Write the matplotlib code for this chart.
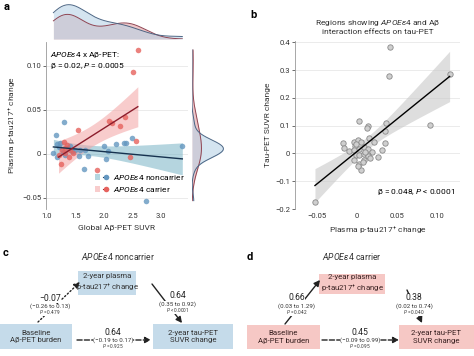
import numpy as np
import matplotlib
matplotlib.use("Agg")
from matplotlib import pyplot as plt
from matplotlib.patches import Patch, Rectangle
from matplotlib.lines import Line2D
from matplotlib.legend_handler import HandlerTuple

plt.rcParams['font.family'] = ['Roboto', 'DejaVu Sans']
plt.rcParams['mathtext.fontset'] = 'custom'
plt.rcParams['mathtext.rm'] = 'Roboto'
plt.rcParams['mathtext.it'] = 'Roboto:italic'

# panel a: global Abeta-PET SUVR vs plasma p-tau217 change
nc_x = [1.29, 1.16, 1.11, 1.18, 1.64, 1.71, 1.99, 2.04, 2.06, 2.21, 2.35, 2.38, 2.49, 3.37,
        2.73, 1.55, 1.17, 1.23, 1.37, 1.43, 1.49, 1.20, 1.32, 1.58, 1.67, 1.27, 1.40]
nc_y = [0.036, 0.022, 0.001, 0.011, -0.017, -0.002, 0.0095, -0.006, 0.003, 0.011, 0.012, 0.012,
        0.018, 0.0095, -0.053, -0.002, -0.003, 0.012, 0.0065, 0.003, 0.0045, 0.008, -0.001,
        0.0045, 0.005, 0.002, 0.009]
c_x = [2.59, 2.50, 2.36, 2.27, 2.09, 2.13, 1.54, 2.55, 2.46, 1.88, 1.25, 1.29, 1.35, 1.26,
       1.40, 1.32, 1.46, 1.20, 1.31, 1.38]
c_y = [0.118, 0.0935, 0.042, 0.032, 0.0375, 0.0356, 0.027, 0.0144, -0.004, -0.018, -0.011,
       0.014, 0.010, 0.0045, 0.0045, 0.001, 0.001, -0.001, 0.007, -0.003]

# panel b: plasma p-tau217 change vs tau-PET SUVR change
b_x = [0.0417, 0.040, 0.116, 0.0917, 0.0025, 0.014, 0.0125, 0.037, 0.035, 0.035, 0.031, 0.027,
       0.0155, 0.0217, -0.017, -0.016, -0.0096, -0.0033, 0.0017, 0.005, -0.0025, 0.003, 0.009,
       0.0133, 0.0188, -0.0013, 0.003, 0.009, 0.0133, -0.0033, 0.003, 0.009, 0.005, 0.001,
       0.014, -0.0525, 0.007, -0.001, 0.010, 0.016, -0.004]
b_y = [0.382, 0.279, 0.285, 0.102, 0.118, 0.098, 0.093, 0.109, 0.080, 0.037, 0.011, -0.013,
       0.055, 0.040, 0.037, 0.020, 0.008, 0.040, 0.049, 0.043, 0.026, 0.017, 0.023, 0.017,
       0.005, -0.007, -0.005, -0.002, -0.004, -0.025, -0.037, -0.025, -0.058, -0.045, -0.010,
       -0.176, -0.030, 0.033, 0.005, -0.018, 0.012]

# panels c/d: mediation coefficients (a path, b path, direct path)
nc_coef = ["-0.07", "0.64", "0.64"]
nc_ci = ["(\u22120.26 to 0.13)", "(0.35 to 0.92)", "(\u22120.19 to 0.17)"]
nc_p = ["= 0.479", "< 0.0001", "= 0.925"]
c_coef = ["0.66", "0.38", "0.45"]
c_ci = ["(0.03 to 1.29)", "(0.02 to 0.74)", "(\u22120.09 to 0.99)"]
c_p = ["= 0.042", "= 0.040", "= 0.095"]

W, H = 474, 356
blue_pt, red_pt = "#6497c0", "#e6625d"
blue_band, red_band = "#78b4c6", "#f3a3a3"
blue_line, red_line = "#16324f", "#8c1d2c"
grid_c = "#e8e8e8"
apoe = r"$\mathit{APOE\varepsilon4}$"


def rect(x0, y0, x1, y1):
    return [x0 / W, 1 - y1 / H, (x1 - x0) / W, (y1 - y0) / H]


def kde(v, grid):
    v = np.asarray(v)
    bw = v.std(ddof=1) * len(v) ** (-0.2)
    z = (grid[:, None] - v[None, :]) / bw
    return np.exp(-0.5 * z ** 2).sum(1) / (len(v) * bw * np.sqrt(2 * np.pi))


def fit_ci(x, y, grid):
    x, y = np.asarray(x), np.asarray(y)
    n = len(x)
    slope, icpt = np.polyfit(x, y, 1)
    resid = y - (slope * x + icpt)
    s = np.sqrt((resid ** 2).sum() / (n - 2))
    se = s * np.sqrt(1 / n + (grid - x.mean()) ** 2 / ((x - x.mean()) ** 2).sum())
    yhat = slope * grid + icpt
    return yhat, yhat - 2.03 * se, yhat + 2.03 * se


fig = plt.figure(figsize=(4.74, 3.56), dpi=100)

# ---- panel a ----
ax = fig.add_axes(rect(46, 42, 188, 209))
for xs, ys, pc, bc, lc in [(nc_x, nc_y, blue_pt, blue_band, blue_line),
                           (c_x, c_y, red_pt, red_band, red_line)]:
    g = np.linspace(min(xs), max(xs), 100)
    yh, lo, hi = fit_ci(xs, ys, g)
    ax.fill_between(g, lo, hi, color=bc, alpha=0.55, lw=0, zorder=1)
    ax.scatter(xs, ys, s=16, color=pc, alpha=0.8, lw=0, zorder=2)
    ax.plot(g, yh, color=lc, lw=1.0, zorder=3)
ax.set_xlim(0.98, 3.47)
ax.set_ylim(-0.0625, 0.127)
ax.set_xticks([1.0, 1.5, 2.0, 2.5, 3.0])
ax.set_xticklabels(["1.0", "1.5", "2.0", "2.5", "3.0"])
ax.set_yticks([-0.05, 0, 0.05, 0.10])
ax.set_yticklabels(["\u22120.05", "0", "0.05", "0.10"])
ax.grid(axis="y", color=grid_c, lw=0.6)
ax.set_axisbelow(True)
for s in ["top", "right", "bottom"]:
    ax.spines[s].set_visible(False)
ax.spines["left"].set_color("#999999")
ax.spines["left"].set_linewidth(0.6)
ax.tick_params(labelsize=5.5, colors="#333333", length=2, width=0.5, pad=1.5)
ax.tick_params(axis="x", length=0, pad=3)
ax.set_xlabel("Global A\u03b2-PET SUVR", fontsize=6, color="#333333", labelpad=4)
ax.set_ylabel("Plasma p-tau217$^{+}$ change", fontsize=6, color="#333333", labelpad=3)
ax.text(0.03, 0.955, apoe + " x A\u03b2-PET:", transform=ax.transAxes, fontsize=6, va="top")
ax.text(0.03, 0.885, "\u03b2 = 0.02, $\\mathit{P}$ = 0.0005",
        transform=ax.transAxes, fontsize=6, va="top")
handles = [(Patch(fc=blue_band, alpha=0.55, lw=0),
            Line2D([], [], color=blue_line, lw=0.8, marker="o", ms=4, mfc=blue_pt, mew=0)),
           (Patch(fc=red_band, alpha=0.55, lw=0),
            Line2D([], [], color=red_line, lw=0.8, marker="o", ms=4, mfc=red_pt, mew=0))]
ax.legend(handles, [apoe + " noncarrier", apoe + " carrier"],
          handler_map={tuple: HandlerTuple(ndivide=None)}, loc="lower right",
          bbox_to_anchor=(1.0, 0.07), frameon=False, fontsize=6, handlelength=1.6,
          handletextpad=0.5, labelspacing=0.4, borderaxespad=0)

n_all = len(nc_x) + len(c_x)
# top marginal
axt = fig.add_axes(rect(46, 4, 188, 39), sharex=ax)
gx = np.linspace(min(nc_x + c_x), max(nc_x + c_x), 200)
top_max = 0
for xs, fc, ec in [(c_x, "#e3a0a4", "#8f4452"), (nc_x, "#b8d3e6", "#4b6584")]:
    d = kde(xs, gx) * len(xs) / n_all
    top_max = max(top_max, d.max())
    axt.fill_between(gx, 0, d, color=fc, alpha=0.6, lw=0)
    axt.plot(gx, d, color=ec, lw=0.7)
axt.set_ylim(0, top_max * 1.02)
axt.axis("off")

# right marginal
axr = fig.add_axes(rect(192, 42, 224, 209), sharey=ax)
gy = np.linspace(min(nc_y + c_y), max(nc_y + c_y), 200)
r_max = 0
for ys, fc, ec in [(c_y, "#e3a0a4", "#8f4452"), (nc_y, "#b8d3e6", "#4b6584")]:
    d = kde(ys, gy) * len(ys) / n_all
    r_max = max(r_max, d.max())
    axr.fill_betweenx(gy, 0, d, color=fc, alpha=0.6, lw=0)
    axr.plot(d, gy, color=ec, lw=0.7)
axr.set_xlim(0, r_max * 1.02)
axr.axis("off")

# ---- panel b ----
bx = fig.add_axes(rect(295, 41, 460, 209))
g = np.linspace(min(b_x), max(b_x), 100)
yh, lo, hi = fit_ci(b_x, b_y, g)
bx.fill_between(g, lo, hi, color="#c8c8c8", alpha=0.6, lw=0, zorder=1)
bx.scatter(b_x, b_y, s=15, facecolor="#cfcfcf", edgecolor="#8a8a8a", lw=0.6, zorder=2)
bx.plot(g, yh, color="black", lw=1.0, zorder=3)
bx.set_xlim(-0.0775, 0.129)
bx.set_ylim(-0.2, 0.405)
bx.set_xticks([-0.05, 0, 0.05, 0.10])
bx.set_xticklabels(["\u22120.05", "0", "0.05", "0.10"])
bx.set_yticks([-0.2, -0.1, 0, 0.1, 0.2, 0.3, 0.4])
bx.set_yticklabels(["\u22120.2", "\u22120.1", "0", "0.1", "0.2", "0.3", "0.4"])
bx.grid(axis="y", color=grid_c, lw=0.6)
bx.set_axisbelow(True)
for s in ["top", "right", "bottom"]:
    bx.spines[s].set_visible(False)
bx.spines["left"].set_color("#999999")
bx.spines["left"].set_linewidth(0.6)
bx.tick_params(labelsize=5.5, colors="#333333", length=2, width=0.5, pad=1.5)
bx.tick_params(axis="x", length=0, pad=3)
bx.set_xlabel("Plasma p-tau217$^{+}$ change", fontsize=6, color="#333333", labelpad=4)
bx.set_ylabel("Tau-PET SUVR change", fontsize=6, color="#333333", labelpad=3)
bx.set_title("Regions showing " + apoe + " and A\u03b2\ninteraction effects on tau-PET",
             fontsize=6, color="#333333", pad=5, linespacing=1.3)
bx.text(0.97, 0.07, "\u03b2 = 0.048, $\\mathit{P}$ < 0.0001", transform=bx.transAxes,
        fontsize=6, ha="right", va="bottom")

# ---- panels c and d (diagram in pixel space) ----
dg = fig.add_axes([0, 0, 1, 1], zorder=-1)
dg.set_xlim(0, W)
dg.set_ylim(H, 0)
dg.axis("off")

boxes = {
    "c": [(78, 271, 136, 295), (0, 324, 72, 349), (153, 324, 233, 349)],
    "d": [(319, 274, 385, 294), (247, 325, 320, 349), (399, 325, 474, 349)],
}
box_txt = ["2-year plasma\np-tau217$^{+}$ change", "Baseline\nA\u03b2-PET burden",
           "2-year tau-PET\nSUVR change"]
arrows = {
    "c": [((38, 322), (80, 282), ":"), ((152, 284), (182, 323), "-"), ((77, 340), (151, 340), "--")],
    "d": [((285, 324), (320, 280), "-"), ((407, 290), (422, 323), "-"), ((322, 340), (399, 340), "--")],
}
lab_pos = {
    "c": [(50, 298.5), (178, 296), (113, 332.5)],
    "d": [(297, 298), (414, 298), (360, 332.5)],
}
white = dict(fc="white", ec="none", pad=0)
for key, col, tc, titl, tx, coefs, cis, ps in [
        ("c", "#c5dbea", "#333333", " noncarrier", 118, nc_coef, nc_ci, nc_p),
        ("d", "#f6c8c5", "#3a2222", " carrier", 352, c_coef, c_ci, c_p)]:
    for (x0, y0, x1, y1), t in zip(boxes[key], box_txt):
        dg.add_patch(Rectangle((x0, y0), x1 - x0, y1 - y0, fc=col, ec="none"))
        dg.text((x0 + x1) / 2, (y0 + y1) / 2, t, ha="center", va="center", fontsize=5.6,
                color=tc, linespacing=1.3)
    for (p0, p1, ls) in arrows[key]:
        dg.annotate("", xy=p1, xytext=p0,
                    arrowprops=dict(arrowstyle="-|>,head_length=0.35,head_width=0.18",
                                    color="#222222", lw=1.0, ls=ls, shrinkA=0, shrinkB=0))
    for (lx, ly), cf, ci, p in zip(lab_pos[key], coefs, cis, ps):
        dg.text(lx, ly, cf.replace("-", "\u2212"), ha="center", va="center", fontsize=6.2,
                color="#222222", bbox=white, zorder=7)
        dg.text(lx, ly + 8, ci, ha="center", va="center", fontsize=4.4, color="#333333",
                bbox=white, zorder=6)
        dg.text(lx, ly + 13.8, "$\\mathit{P}$ " + p, ha="center", va="center", fontsize=3.4,
                color="#333333", bbox=white, zorder=5)
    dg.text(tx, 257, apoe + titl, ha="center", va="center", fontsize=6.2, color="#333333")

for lbl, px, py in [("a", 4, 7), ("b", 250, 15), ("c", 3, 253), ("d", 247, 257)]:
    dg.text(px, py, lbl, fontsize=8, fontweight="bold", ha="left", va="center")

fig.savefig("out.png", dpi=100)
